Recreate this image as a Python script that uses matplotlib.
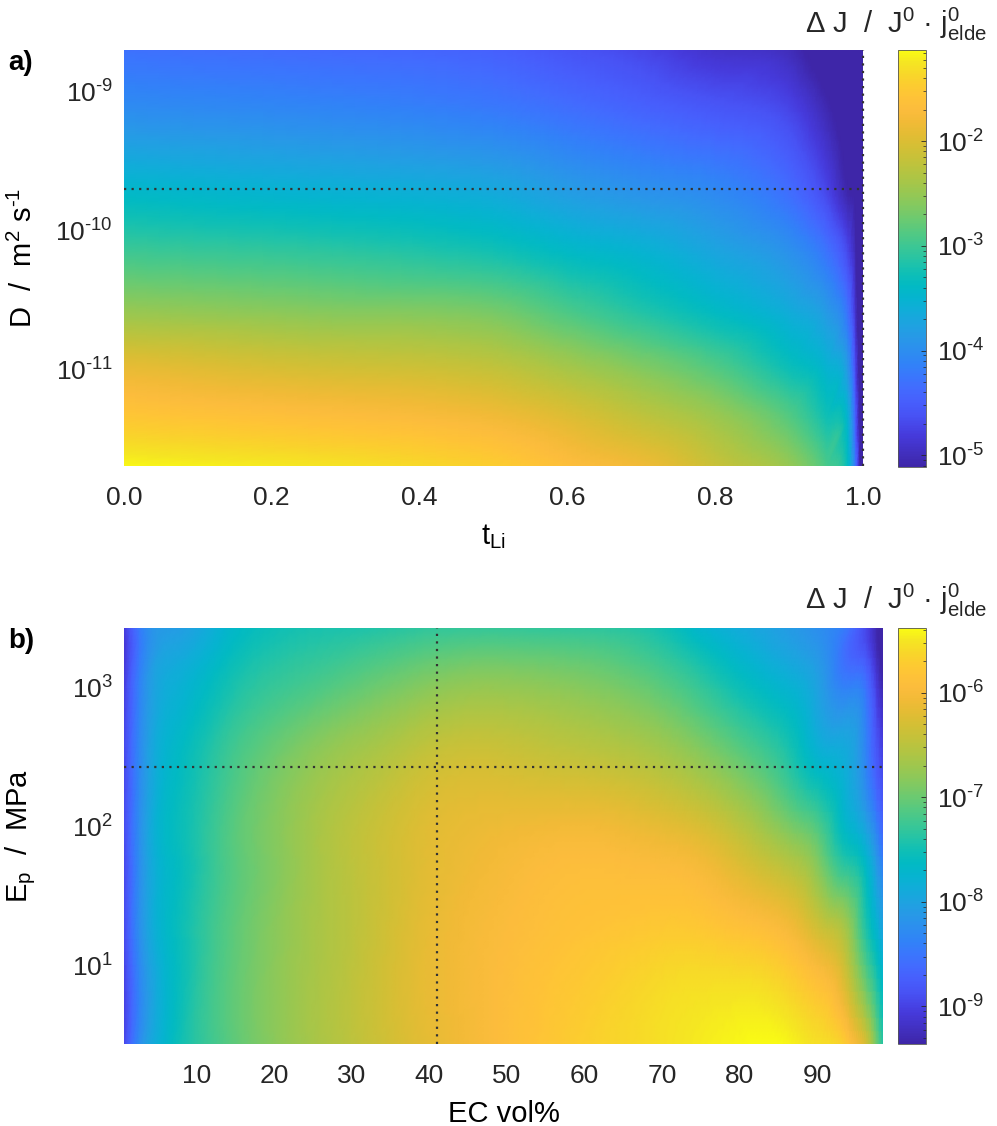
import numpy as np
import matplotlib
matplotlib.use('Agg')
import matplotlib.pyplot as plt
from matplotlib.colors import LinearSegmentedColormap, LogNorm, Normalize
from matplotlib.tri import Triangulation, UniformTriRefiner, CubicTriInterpolator
import matplotlib.cm as cm
from matplotlib.ticker import FixedLocator, FixedFormatter

plt.rcParams['font.family'] = ['Liberation Sans', 'DejaVu Sans']
plt.rcParams['mathtext.fontset'] = 'custom'
plt.rcParams['mathtext.rm'] = 'Liberation Sans'
plt.rcParams['mathtext.it'] = 'Liberation Sans:italic'
plt.rcParams['mathtext.default'] = 'regular'
TXT = '#262626'
plt.rcParams['text.color'] = TXT
plt.rcParams['xtick.color'] = TXT
plt.rcParams['ytick.color'] = TXT

# ---------------- data: panel a ----------------
t_li = [0.0, 0.25, 0.5, 0.6, 0.7, 0.8, 0.9, 0.95, 0.98, 0.99, 1.0]
log_D = [-11.699, -11.35, -10.97, -10.59, -10.15, -9.70, -9.14, -8.699]
# log10(dJ) ; one row per t_Li value, bottom -> top in log_D
logJ_a = [
    [-1.15, -1.52, -1.92, -2.48, -3.00, -3.45, -4.00, -4.30],
    [-1.25, -1.64, -2.08, -2.58, -3.08, -3.55, -4.07, -4.37],
    [-1.45, -1.80, -2.22, -2.68, -3.24, -3.68, -4.20, -4.47],
    [-1.65, -1.97, -2.42, -2.91, -3.40, -3.84, -4.31, -4.59],
    [-1.82, -2.20, -2.64, -3.14, -3.52, -3.96, -4.43, -4.71],
    [-2.14, -2.45, -2.90, -3.37, -3.72, -4.07, -4.55, -4.90],
    [-2.50, -2.86, -3.30, -3.62, -3.96, -4.35, -4.71, -5.00],
    [-2.92, -3.24, -3.52, -3.84, -4.27, -4.71, -5.03, -5.30],
    [-3.40, -3.56, -3.92, -4.31, -4.71, -5.10, -5.30, -5.45],
    [-4.30, -4.50, -4.70, -4.90, -5.05, -5.20, -5.40, -5.50],
    [-5.80, -5.80, -5.80, -5.80, -5.80, -5.80, -5.80, -5.80],
]
D_line = 2e-10
t_line = 1.0
clim_a = (-5.11, -1.13)          # log10 limits of colour scale
D_ticks = [-11, -10, -9]
cb_ticks_a = [-5, -4, -3, -2]

# ---------------- data: panel b ----------------
ec_vol = [0.6, 2.6, 6.5, 13.0, 19.4, 26.0, 32.3, 38.8, 48.9, 59.4, 69.7, 75.0,
          80.1, 86.5, 90.4, 94.3, 96.4, 97.7, 98.5]
log_Ep = [0.431, 1.19, 1.79, 2.43, 3.0, 3.431]
logJ_b = [
    [-8.96, -8.96, -8.96, -8.96, -9.05, -9.05],
    [-8.25, -8.25, -8.25, -8.29, -8.37, -8.45],
    [-7.65, -7.65, -7.65, -7.69, -7.85, -8.09],
    [-7.17, -7.17, -7.21, -7.29, -7.53, -7.77],
    [-6.85, -6.85, -6.89, -6.97, -7.29, -7.53],
    [-6.61, -6.61, -6.61, -6.73, -7.15, -7.45],
    [-6.41, -6.41, -6.41, -6.57, -7.00, -7.41],
    [-6.20, -6.18, -6.22, -6.39, -6.85, -7.33],
    [-5.94, -5.96, -6.04, -6.31, -6.75, -7.29],
    [-5.70, -5.82, -5.94, -6.39, -6.84, -7.32],
    [-5.55, -5.72, -6.00, -6.55, -7.07, -7.47],
    [-5.47, -5.72, -6.08, -6.73, -7.29, -7.73],
    [-5.41, -5.78, -6.30, -6.97, -7.53, -7.89],
    [-5.42, -5.95, -6.62, -7.37, -7.77, -8.09],
    [-5.55, -6.25, -6.97, -7.69, -8.05, -8.25],
    [-5.85, -6.73, -7.49, -7.93, -8.37, -8.56],
    [-6.30, -7.37, -7.77, -8.37, -8.56, -8.96],
    [-6.97, -7.69, -8.17, -8.76, -9.04, -9.30],
    [-7.37, -7.93, -8.48, -8.96, -9.30, -9.40],
]
EC_line = 41.0
Ep_line = 270.0
clim_b = (-9.36, -5.38)
Ep_ticks = [1, 2, 3]
cb_ticks_b = [-9, -8, -7, -6]

x_ticks_a = [0.0, 0.2, 0.4, 0.6, 0.8, 1.0]
x_ticks_b = [10, 20, 30, 40, 50, 60, 70, 80, 90]

# ---------------- parula colormap (anchor position, colour) ----------------
parula_anchors = [
    (0.000, (0.2422, 0.1504, 0.6603)), (0.075, (0.2740, 0.2280, 0.8612)),
    (0.122, (0.2810, 0.3228, 0.9579)), (0.153, (0.2791, 0.3675, 0.9888)),
    (0.184, (0.2619, 0.4153, 0.9964)), (0.216, (0.2285, 0.4642, 0.9903)),
    (0.247, (0.1914, 0.5129, 0.9694)), (0.278, (0.1757, 0.5564, 0.9361)),
    (0.310, (0.1548, 0.5986, 0.9053)), (0.341, (0.1182, 0.6383, 0.8794)),
    (0.373, (0.0679, 0.6736, 0.8518)), (0.404, (0.0218, 0.7045, 0.8137)),
    (0.435, (0.0070, 0.7297, 0.7656)), (0.467, (0.0634, 0.7506, 0.7079)),
    (0.498, (0.1487, 0.7675, 0.6452)), (0.529, (0.2350, 0.7803, 0.5804)),
    (0.561, (0.3221, 0.7879, 0.5127)), (0.592, (0.4137, 0.7909, 0.4455)),
    (0.624, (0.5051, 0.7888, 0.3815)), (0.658, (0.5939, 0.7825, 0.3221)),
    (0.695, (0.6785, 0.7732, 0.2706)), (0.732, (0.7574, 0.7616, 0.2308)),
    (0.768, (0.8291, 0.7491, 0.2068)), (0.800, (0.8936, 0.7372, 0.2025)),
    (0.830, (0.9492, 0.7300, 0.2167)), (0.860, (0.9881, 0.7381, 0.2372)),
    (0.890, (0.9970, 0.7658, 0.2160)), (0.920, (0.9883, 0.8041, 0.1874)),
    (0.946, (0.9706, 0.8474, 0.1617)), (0.972, (0.9613, 0.8995, 0.1326)),
    (1.000, (0.9769, 0.9839, 0.0805))]
parula = LinearSegmentedColormap.from_list('parula', parula_anchors, N=256)


def field_mesh(xv, yv, zrows, kind, subdiv=4):
    xv = np.asarray(xv, float)
    yv = np.asarray(yv, float)
    nx, ny = len(xv), len(yv)
    xn = (xv - xv.min()) / (xv.max() - xv.min())
    yn = (yv - yv.min()) / (yv.max() - yv.min())
    XX, YY = np.meshgrid(xn, yn, indexing='ij')
    tris = []
    for i in range(nx - 1):
        for j in range(ny - 1):
            a = i * ny + j
            b = (i + 1) * ny + j
            c = (i + 1) * ny + j + 1
            d = i * ny + j + 1
            tris += [[a, b, c], [a, c, d]]
    tri = Triangulation(XX.ravel(), YY.ravel(), np.array(tris))
    Z = np.asarray(zrows, float).ravel()
    interp = CubicTriInterpolator(tri, Z, kind=kind)
    tri_r, z_r = UniformTriRefiner(tri).refine_field(Z, triinterpolator=interp, subdiv=subdiv)
    xr = xv.min() + tri_r.x * (xv.max() - xv.min())
    yr = yv.min() + tri_r.y * (yv.max() - yv.min())
    return Triangulation(xr, yr, tri_r.triangles), z_r


def pow_labels(exps):
    return ['10$^{\\text{%d}}$' % e for e in exps]


fig = plt.figure(figsize=(9.97, 11.26), dpi=100)
W, H = 997.0, 1126.0


def fbox(x0, y0, x1, y1):
    return [x0 / W, 1 - y1 / H, (x1 - x0) / W, (y1 - y0) / H]


ax_a = fig.add_axes(fbox(124, 50, 863, 466))
cax_a = fig.add_axes(fbox(898, 50, 926, 467))
ax_b = fig.add_axes(fbox(124, 628, 883, 1044))
cax_b = fig.add_axes(fbox(898, 628, 926, 1044))

TICK_FS = 19
LAB_FS = 21
DOT = dict(color='#333333', lw=1.6, ls=(0, (1, 2.4)))

# panel a  (y axis in decades of D)
tri_a, z_a = field_mesh(t_li, log_D, logJ_a, 'geom')
norm_a = Normalize(*clim_a)
ax_a.tripcolor(tri_a, z_a, norm=norm_a, cmap=parula, shading='gouraud', rasterized=True)
ax_a.set_xlim(0, 1)
ax_a.set_ylim(min(log_D), max(log_D))
ax_a.axhline(np.log10(D_line), **DOT)
ax_a.axvline(t_line, clip_on=False, **DOT)
ax_a.set_xticks(x_ticks_a)
ax_a.set_xticklabels([f'{v:.1f}' for v in x_ticks_a])
ax_a.set_yticks(D_ticks)
ax_a.set_yticklabels(pow_labels(D_ticks))
ax_a.set_ylabel('D  /  m$^2$ s$^{\\text{-1}}$', fontsize=LAB_FS)
ax_a.yaxis.set_label_coords((38 - 124) / 739, 0.5)
ax_a.set_xlabel('t$_{Li}$', fontsize=LAB_FS)
ax_a.xaxis.set_label_coords(0.5, (466 - 522) / 416)

# panel b
tri_b, z_b = field_mesh(ec_vol, log_Ep, logJ_b, 'min_E')
norm_b = Normalize(*clim_b)
ax_b.tripcolor(tri_b, z_b, norm=norm_b, cmap=parula, shading='gouraud', rasterized=True)
ax_b.set_xlim(min(ec_vol), max(ec_vol))
ax_b.set_ylim(min(log_Ep), max(log_Ep))
ax_b.axhline(np.log10(Ep_line), **DOT)
ax_b.axvline(EC_line, **DOT)
ax_b.set_xticks(x_ticks_b)
ax_b.set_xticklabels([str(v) for v in x_ticks_b])
ax_b.set_yticks(Ep_ticks)
ax_b.set_yticklabels(pow_labels(Ep_ticks))
ax_b.set_ylabel('E$_p$  /  MPa', fontsize=LAB_FS)
ax_b.yaxis.set_label_coords((38 - 124) / 759, 0.5)
ax_b.set_xlabel('EC vol%', fontsize=LAB_FS)
ax_b.xaxis.set_label_coords(0.5, (1044 - 1100) / 416)

for ax in (ax_a, ax_b):
    for s in ax.spines.values():
        s.set_visible(False)
    ax.tick_params(axis='x', length=0, pad=14.5, labelsize=TICK_FS)
    ax.tick_params(axis='y', length=0, pad=8, labelsize=TICK_FS)

# colorbars (log scale)
for cax, clim, cticks, ytitle in ((cax_a, clim_a, cb_ticks_a, 33), (cax_b, clim_b, cb_ticks_b, 609)):
    norm = LogNorm(10 ** clim[0], 10 ** clim[1])
    sm = cm.ScalarMappable(norm=norm, cmap=parula)
    cb = fig.colorbar(sm, cax=cax)
    cb.outline.set_linewidth(0.6)
    cb.outline.set_edgecolor('#555555')
    cax.yaxis.set_major_locator(FixedLocator([10.0 ** e for e in cticks]))
    cax.yaxis.set_major_formatter(FixedFormatter(pow_labels(cticks)))
    minors = [m * 10.0 ** e for e in range(int(np.floor(clim[0])), int(np.ceil(clim[1])))
              for m in range(2, 10) if clim[0] <= np.log10(m * 10.0 ** e) <= clim[1]]
    cax.yaxis.set_minor_locator(FixedLocator(minors))
    cax.yaxis.set_minor_formatter(FixedFormatter([''] * len(minors)))
    cax.tick_params(which='major', direction='in', length=3.5, width=0.6,
                    labelsize=TICK_FS, pad=8, right=True, left=False)
    cax.tick_params(which='minor', direction='in', length=2, width=0.5, right=True, left=False)
    fig.text(896 / W, 1 - ytitle / H, 'Δ J  /  J$^0$ · j$^{0}_{elde}$',
             ha='center', va='baseline', fontsize=21)

fig.text(8 / W, 1 - 70 / H, 'a)', fontsize=20, fontweight='bold', ha='left', va='baseline', color='black')
fig.text(8 / W, 1 - 648 / H, 'b)', fontsize=20, fontweight='bold', ha='left', va='baseline', color='black')

fig.savefig('out.png', dpi=100)
